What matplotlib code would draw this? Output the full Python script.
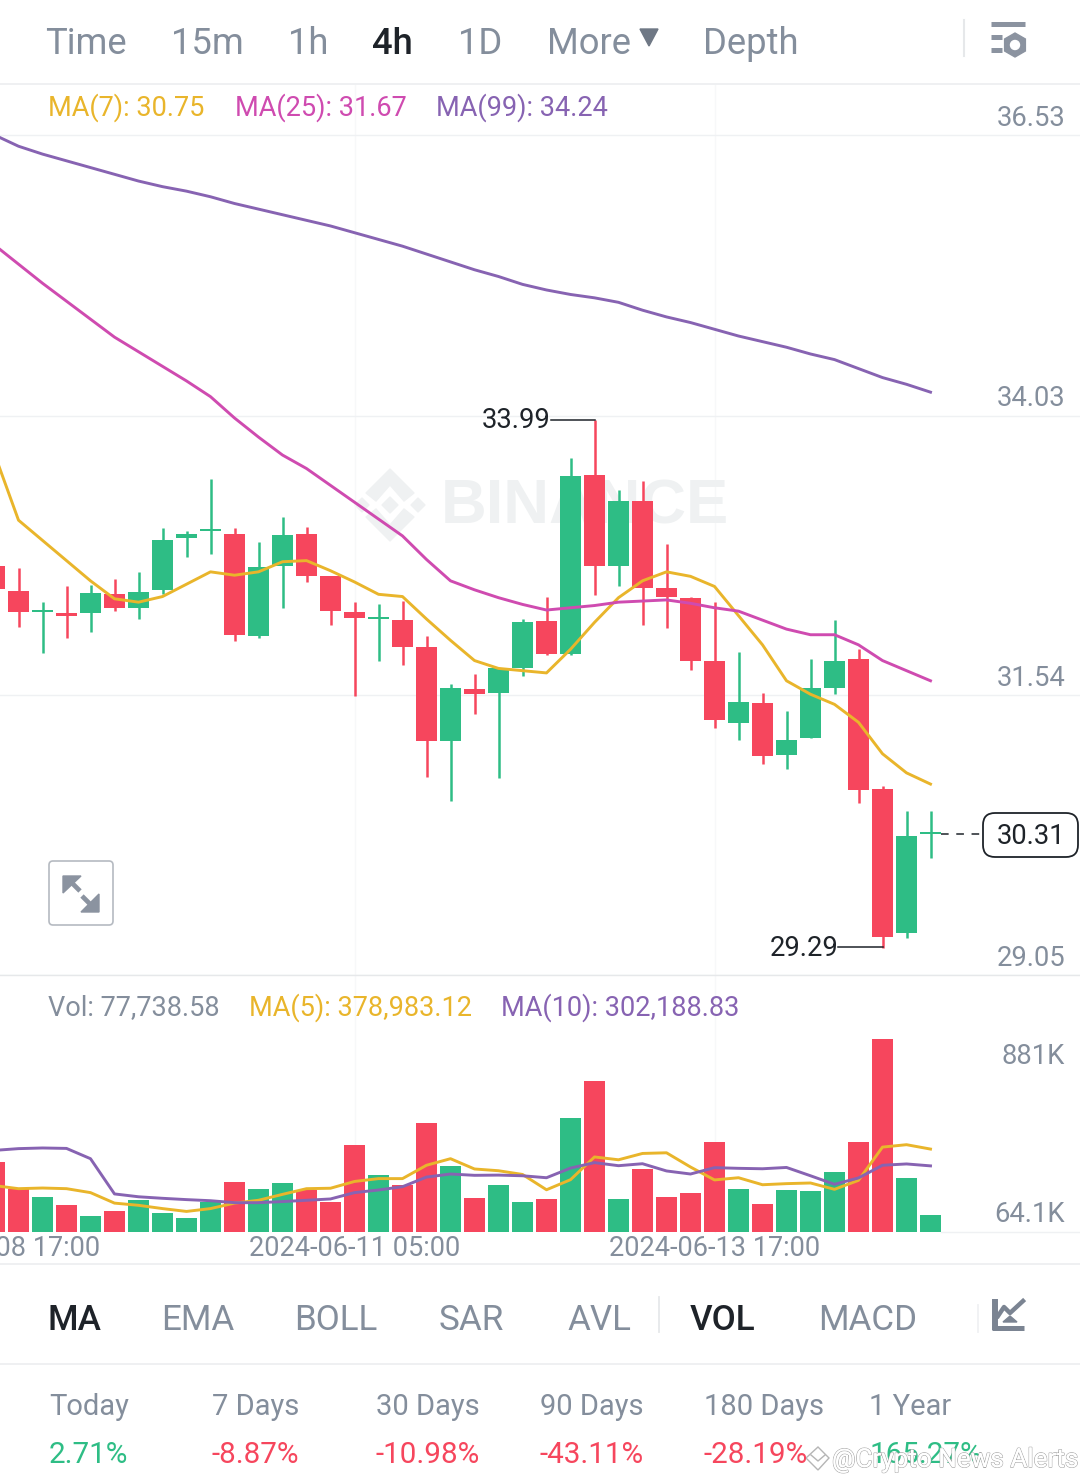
import matplotlib
matplotlib.use("Agg")
import matplotlib.pyplot as plt
import matplotlib.patheffects as pe
from matplotlib.patches import FancyBboxPatch, Polygon, Circle
import numpy as np

plt.rcParams['font.family'] = ['Roboto', 'DejaVu Sans']

# candles, first one is cut off by the left edge (x = -1)
candleX = list(range(-1, 39))
highs = [32.71, 32.67, 32.37, 32.51, 32.52, 32.58, 32.64, 33.03, 33.00, 33.47,
         33.03, 32.91, 33.13, 33.04, 32.60, 32.37, 32.35, 32.38, 32.07, 31.64,
         31.73, 31.78, 32.22, 32.42, 33.65, 33.99, 33.37, 33.45, 32.89, 32.42,
         32.37, 31.93, 31.56, 31.40, 31.86, 32.21, 31.95, 30.73, 30.51, 30.51]
lows = [32.47, 32.15, 31.92, 32.05, 32.10, 32.29, 32.22, 32.44, 32.77, 32.80,
        32.02, 32.05, 32.32, 32.55, 32.17, 31.53, 31.85, 31.81, 30.81, 30.60,
        31.37, 30.80, 31.71, 31.90, 31.90, 32.43, 32.51, 32.17, 32.14, 31.77,
        31.25, 31.14, 30.93, 30.88, 31.16, 31.55, 30.58, 29.29, 29.38, 30.09]
bodyTops = [32.69, 32.47, 32.30, 32.27, 32.45, 32.44, 32.46, 32.92, 32.98, 33.02,
            32.98, 32.68, 32.97, 32.98, 32.60, 32.28, 32.24, 32.21, 31.97, 31.61,
            31.60, 31.78, 32.19, 32.20, 33.49, 33.50, 33.27, 33.27, 32.50, 32.41,
            31.85, 31.48, 31.47, 31.14, 31.61, 31.85, 31.86, 30.71, 30.29, 30.32]
bodyBottoms = [32.49, 32.28, 32.28, 32.25, 32.27, 32.32, 32.32, 32.48, 32.94, 33.00,
               32.08, 32.07, 32.69, 32.60, 32.29, 32.23, 32.22, 31.97, 31.13, 31.13,
               31.55, 31.56, 31.78, 31.91, 31.91, 32.69, 32.69, 32.50, 32.42, 31.85,
               31.32, 31.29, 31.00, 31.01, 31.16, 31.61, 30.70, 29.39, 29.42, 30.31]
isUp = [0, 0, 1, 0, 1, 0, 1, 1, 1, 1,
        0, 1, 1, 0, 0, 0, 1, 0, 0, 1,
        0, 1, 1, 0, 1, 0, 1, 0, 0, 0,
        0, 1, 0, 1, 1, 1, 0, 0, 1, 1]

ma7 = [33.69, 33.10, 32.92, 32.74, 32.56, 32.40, 32.37, 32.42, 32.53, 32.64,
       32.61, 32.64, 32.73, 32.74, 32.65, 32.55, 32.44, 32.42, 32.22, 32.03,
       31.85, 31.78, 31.76, 31.74, 31.95, 32.19, 32.41, 32.56, 32.64, 32.60,
       32.51, 32.25, 31.99, 31.67, 31.55, 31.46, 31.30, 31.02, 30.85, 30.75]
ma25 = [35.55, 35.38, 35.21, 35.05, 34.89, 34.73, 34.60, 34.47, 34.34, 34.20,
        34.01, 33.84, 33.68, 33.56, 33.41, 33.26, 33.11, 32.96, 32.75, 32.56,
        32.48, 32.41, 32.35, 32.30, 32.32, 32.34, 32.37, 32.38, 32.39, 32.36,
        32.32, 32.29, 32.21, 32.13, 32.08, 32.08, 31.99, 31.85, 31.76, 31.67]
ma99 = [36.53, 36.43, 36.36, 36.30, 36.24, 36.18, 36.12, 36.07, 36.03, 35.98,
        35.92, 35.87, 35.82, 35.77, 35.72, 35.66, 35.60, 35.54, 35.47, 35.40,
        35.33, 35.27, 35.20, 35.15, 35.11, 35.08, 35.04, 34.97, 34.91, 34.86,
        34.80, 34.74, 34.69, 34.64, 34.58, 34.53, 34.45, 34.37, 34.31, 34.24]

# volume in thousands
volumes = [318, 198, 160, 122, 75, 97, 145, 88, 62, 137,
           227, 198, 224, 193, 136, 399, 259, 213, 500, 300,
           157, 213, 136, 149, 519, 690, 151, 286, 161, 180,
           413, 195, 129, 190, 187, 273, 410, 881, 245, 77.74]
volMa5 = [212, 198, 201, 198, 180, 132, 122, 107, 94, 107,
          132, 145, 172, 198, 200, 231, 244, 244, 305, 335,
          288, 280, 263, 193, 239, 343, 330, 359, 362, 297,
          238, 248, 216, 221, 224, 195, 236, 388, 399, 378.98]
volMa10 = [373, 381, 384, 382, 335, 174, 161, 154, 148, 143,
           134, 134, 139, 145, 151, 180, 192, 207, 251, 265,
           259, 260, 257, 248, 292, 317, 303, 312, 279, 265,
           294, 291, 289, 295, 257, 218, 247, 305, 311, 302.19]

priceTicks = ["36.53", "34.03", "31.54", "29.05"]
priceTickValues = [36.53, 34.03, 31.54, 29.05]
timeLabels = ["2024-06-08 17:00", "2024-06-11 05:00", "2024-06-13 17:00"]
timeLabelX = [-1, 14, 29]
topTabs = ["Time", "15m", "1h", "4h", "1D", "More", "Depth"]
topTabX = [45, 171, 288, 372, 458, 547, 703]
indicatorTabs = ["MA", "EMA", "BOLL", "SAR", "AVL", "VOL", "MACD"]
indicatorTabX = [47, 161, 294, 439, 567, 690, 818]
periodLabels = ["Today", "7 Days", "30 Days", "90 Days", "180 Days", "1 Year"]
periodValues = ["2.71%", "-8.87%", "-10.98%", "-43.11%", "-28.19%", "165.27%"]
periodX = [49, 212, 376, 540, 704, 869]

GREEN = "#2EBD85"
RED = "#F6465D"
YELLOW = "#E9B52B"
PINK = "#CF4BB0"
PURPLE = "#8763B2"
GREY = "#848E9C"
ICON = "#8B93A0"
DARK = "#1E2329"
LINE = "#EFF1F3"

W, H = 1080, 1480
fig = plt.figure(figsize=(W / 100, H / 100), dpi=100)


def pxAxes(top, bottom):
    # axes that span the whole width, given top and bottom in pixels
    return fig.add_axes([0, 1 - bottom / H, 1, (bottom - top) / H])


xLimits = ((0 - 18.5) / 24, (W - 18.5) / 24)
pricePerPx = (36.53 - 29.05) / 840

# pixel overlay under the charts: grid lines and watermark
back = pxAxes(0, H)
back.set_xlim(0, W)
back.set_ylim(H, 0)
back.axis("off")
for x in [355, 715]:
    back.plot([x, x], [85, 1232], color="#F7F8F9", lw=1)
back.text(441, 507, "BINANCE", fontsize=45.5, fontweight="bold", color="#EFF1F2",
          va="center", ha="left", family="Liberation Sans")
cx, cy = 390, 505
back.add_patch(Polygon([(cx, cy - 36), (cx + 24, cy - 12), (cx + 14, cy - 4), (cx, cy - 20),
                        (cx - 14, cy - 4), (cx - 24, cy - 12)], color="#EFF1F2"))
back.add_patch(Polygon([(cx, cy + 36), (cx + 24, cy + 12), (cx + 14, cy + 4), (cx, cy + 20),
                        (cx - 14, cy + 4), (cx - 24, cy + 12)], color="#EFF1F2"))
back.add_patch(Polygon([(cx, cy - 8), (cx + 8, cy), (cx, cy + 8), (cx - 8, cy)], color="#EFF1F2"))
back.add_patch(Polygon([(cx + 28, cy - 7), (cx + 35, cy), (cx + 28, cy + 7), (cx + 21, cy)], color="#EFF1F2"))
back.add_patch(Polygon([(cx - 28, cy - 7), (cx - 21, cy), (cx - 28, cy + 7), (cx - 35, cy)], color="#EFF1F2"))

# price chart
ax = pxAxes(85, 975)
ax.patch.set_alpha(0)
ax.set_xlim(xLimits)
ax.set_ylim(29.05, 36.53 + 50 * pricePerPx)
ax.axis("off")
for value in priceTickValues:
    ax.axhline(value, color=LINE, lw=1, zorder=0)

colors = [GREEN if up else RED for up in isUp]
ax.vlines(candleX, lows, highs, colors=colors, lw=1.8, zorder=2)
ax.bar(candleX, np.array(bodyTops) - np.array(bodyBottoms), bottom=bodyBottoms, width=0.875,
       color=colors, zorder=2)
ax.plot(candleX, ma7, color=YELLOW, lw=2.1, zorder=3)
ax.plot(candleX, ma25, color=PINK, lw=2.1, zorder=3)
ax.plot(candleX, ma99, color=PURPLE, lw=2.1, zorder=3)

# volume chart
axVol = pxAxes(1030, 1232)
axVol.patch.set_alpha(0)
axVol.set_xlim(xLimits)
axVol.set_ylim(0, 202 * 4.57)
axVol.axis("off")
axVol.bar(candleX, volumes, width=0.875, color=colors, zorder=2)
axVol.plot(candleX, volMa5, color=YELLOW, lw=2.1, zorder=3)
axVol.plot(candleX, volMa10, color=PURPLE, lw=2.1, zorder=3)

# everything else sits on a pixel overlay
ui = pxAxes(0, H)
ui.patch.set_alpha(0)
ui.set_xlim(0, W)
ui.set_ylim(H, 0)
ui.axis("off")

for y in [84, 1264, 1364]:
    ui.plot([0, W], [y, y], color="#ECEEF0", lw=1.2)
ui.plot([0, W], [975, 975], color="#E6E8EA", lw=1)
ui.plot([941, W], [1232, 1232], color=LINE, lw=1)


def txt(x, y, s, size, color=GREY, ha="left", weight="normal", **kw):
    return ui.text(x, y, s, fontsize=size, color=color, ha=ha, va="center", fontweight=weight, **kw)


for label, x in zip(topTabs, topTabX):
    active = label == "4h"
    txt(x, 44, label, 26.2, DARK if active else GREY, weight="medium" if active else "normal")
ui.add_patch(Polygon([(640, 29), (658, 29), (649, 46)], color="#6F7885"))
ui.plot([964, 964], [20, 56], color="#E6E8EA", lw=1.5)

# settings icon
for x0, x1, y in [(991, 1025, 24), (991, 1002, 37), (991, 1002, 50)]:
    ui.plot([x0, x1], [y, y], color=ICON, lw=3.6, solid_capstyle="butt")
angles = np.radians(np.arange(30, 390, 60))
ui.add_patch(Polygon(np.c_[1015 + 12 * np.cos(angles), 45 + 12 * np.sin(angles)], color=ICON))
ui.add_patch(Circle((1015, 45), 4.5, color="white"))

# legends
txt(48, 108, "MA(7): 30.75", 19.5, YELLOW)
txt(235, 108, "MA(25): 31.67", 19.5, PINK)
txt(436, 108, "MA(99): 34.24", 19.5, PURPLE)
txt(48, 1008, "Vol: 77,738.58", 19.5, GREY)
txt(249, 1008, "MA(5): 378,983.12", 19.5, YELLOW)
txt(501, 1008, "MA(10): 302,188.83", 19.5, PURPLE)

# axis labels
for label, y in zip(priceTicks, [119, 399, 679, 959]):
    txt(1065, y, label, 19.7, GREY, ha="right")
txt(1065, 1057, "881K", 19.7, GREY, ha="right")
txt(1065, 1215, "64.1K", 19.7, GREY, ha="right")
for label, i in zip(timeLabels, timeLabelX):
    txt(19 + 24 * i, 1248, label, 19.5, GREY, ha="center")

# high / low marks
ui.plot([551, 595], [420, 420], color=DARK, lw=1.1)
ui.plot([838, 883], [947, 947], color=DARK, lw=1.1)
txt(482, 420, "33.99", 19.7, DARK)
txt(770, 949, "29.29", 19.7, DARK)

# last price tag
ui.plot([941, 983], [834, 834], color=DARK, lw=1.1, ls=(0, (5, 5)))
ui.add_patch(FancyBboxPatch((990, 820), 81, 30, boxstyle="round,pad=7,rounding_size=12",
                            fc="white", ec=DARK, lw=1.3))
txt(1031, 837, "30.31", 19.7, DARK, ha="center")

# expand button
ui.add_patch(FancyBboxPatch((50, 862), 62, 62, boxstyle="round,pad=1,rounding_size=4",
                            fc="white", ec="#B5BAC1", lw=1.2))
ui.plot([70, 80], [881, 891], color=ICON, lw=3.4, solid_capstyle="butt")
ui.plot([82, 92], [896, 906], color=ICON, lw=3.4, solid_capstyle="butt")
ui.add_patch(Polygon([(63, 876), (81, 876), (63, 893)], color=ICON))
ui.add_patch(Polygon([(99, 912), (81, 912), (99, 894)], color=ICON))

# indicator row
for label, x in zip(indicatorTabs, indicatorTabX):
    active = label in ("MA", "VOL")
    txt(x, 1320, label, 25.2, DARK if active else GREY, weight="medium" if active else "normal")
ui.plot([659, 659], [1297, 1332], color="#E6E8EA", lw=1.3)
ui.plot([978, 978], [1305, 1332], color="#F0F1F3", lw=1.3)
ui.plot([995, 995], [1299, 1330], color="#7B8492", lw=4.3, solid_capstyle="butt")
ui.plot([992, 1024], [1328, 1328], color="#7B8492", lw=3.6, solid_capstyle="butt")
ui.plot([998, 1004, 1010, 1023], [1316, 1307, 1313, 1301], color="#7B8492", lw=3.2)
ui.add_patch(Polygon([(1010, 1316), (1003, 1322), (1017, 1322)], color="#7B8492"))

# period stats
for label, value, x in zip(periodLabels, periodValues, periodX):
    txt(x, 1407, label, 21, GREY)
    txt(x, 1455, value, 21.3, RED if value.startswith("-") else GREEN)

# watermark of the source account, white with a thin outline
mark = txt(832, 1460, "@Crypto News Alerts", 18.8, "white")
mark.set_path_effects([pe.withStroke(linewidth=1.0, foreground="#A8A8A8"), pe.Normal()])
ui.add_patch(Polygon([(806, 1458), (818, 1447), (829, 1458), (818, 1470)], fc="white", ec="#B5B5B5", lw=1))
ui.plot([811, 818, 825], [1455, 1461, 1455], color="#B5B5B5", lw=1)

fig.savefig("out.png", dpi=100)
